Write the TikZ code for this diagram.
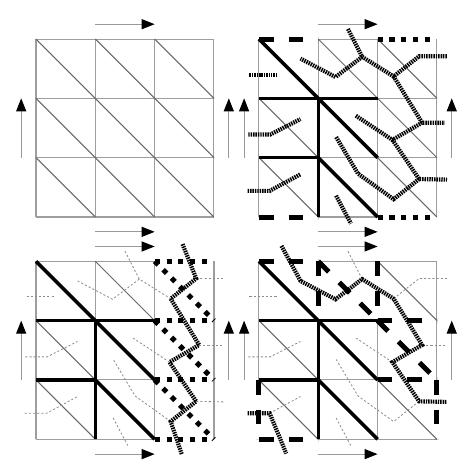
\documentclass[tikz,border=0pt]{standalone}
\usetikzlibrary{arrows.meta}

% centres of the triangles (panel coordinates)
\newcommand{\dualpoints}{%
  \coordinate (U02) at (0.70,2.67); \coordinate (U12) at (1.74,2.70); \coordinate (U22) at (2.70,2.71);
  \coordinate (L02) at (0.32,2.40); \coordinate (L12) at (1.29,2.36); \coordinate (L22) at (2.27,2.37);
  \coordinate (U01) at (0.70,1.65); \coordinate (U11) at (1.63,1.71); \coordinate (U21) at (2.75,1.59);
  \coordinate (L01) at (0.19,1.39); \coordinate (L11) at (1.30,1.35); \coordinate (L21) at (2.25,1.30);
  \coordinate (U00) at (0.70,0.72); \coordinate (U10) at (1.67,0.73); \coordinate (U20) at (2.70,0.64);
  \coordinate (L00) at (0.18,0.44); \coordinate (L10) at (1.30,0.36); \coordinate (L20) at (2.27,0.30);
  % loose ends across the border
  \coordinate (T0) at (0.38,3.26); \coordinate (T1) at (1.50,3.17); \coordinate (T2) at (2.47,3.29);
  \coordinate (B0) at (0.46,-0.24); \coordinate (B1) at (1.55,-0.11); \coordinate (B2) at (2.46,-0.26);
  \coordinate (W0) at (-0.19,0.44); \coordinate (W1) at (-0.18,1.39); \coordinate (W2) at (-0.16,2.40);
  \coordinate (R0) at (3.17,0.63); \coordinate (R1) at (3.13,1.59); \coordinate (R2) at (3.17,2.71);
}

% identification arrows
\newcommand{\gluearrows}{%
  \draw[glue] (1,3.25) -- (2,3.25);
  \draw[glue] (1,-0.25) -- (2,-0.25);
  \draw[glue] (-0.25,1) -- (-0.25,2);
  \draw[glue] (3.25,1) -- (3.25,2);
}

% spanning tree
\newcommand{\treelines}{%
  \draw[tree] (0,3) -- (2,1);
  \draw[tree] (0,2) -- (2,2);
  \draw[tree] (0,1) -- (1,1);
  \draw[tree] (1,2) -- (1,0);
  \draw[tree] (1,1) -- (2,0);
}

\begin{document}
\begin{tikzpicture}[
    mesh/.style={black!38, line width=0.5pt},
    diag/.style={black!60, line width=0.5pt},
    tree/.style={line width=1.7pt},
    cut/.style={line width=2.4pt, dash pattern=on 0.25cm off 0.25cm},
    seam/.style={line width=2.4pt, dash pattern=on 0.085cm off 0.115cm},
    cotree/.style={line width=2pt, dash pattern=on 0.7pt off 0.45pt},
    dualedge/.style={black!45, line width=0.4pt, dash pattern=on 1pt off 1pt},
    glue/.style={black!40, line width=0.5pt, -{Triangle[length=0.22cm, width=0.17cm, color=black, fill=black]}}
]
    \useasboundingbox (0,0) rectangle (7.99,7.99);

    % Mesh
    \begin{scope}[shift={(0.607,4.332)}]
        \draw[mesh] (0,0) grid (3,3);
        \foreach \i in {0,1,2}
            \foreach \j in {0,1,2}
                \draw[diag] (\i,\j+1) -- (\i+1,\j);
        \gluearrows
    \end{scope}

    % Tree and cotree
    \begin{scope}[shift={(4.365,4.332)}]
        \dualpoints
        \draw[mesh] (0,0) -- (0,3) (1,3) -- (1,2) (2,0) -- (2,3) (3,0) -- (3,3);
        \draw[mesh] (1,3) -- (2,3) (2,2) -- (3,2) (1,1) -- (3,1) (1,0) -- (2,0);
        \draw[diag] (1,3) -- (2,2) (2,3) -- (3,2) (0,2) -- (1,1) (2,2) -- (3,1) (0,1) -- (1,0) (2,1) -- (3,0);
        \treelines
        \draw[cut] (0,3) -- (1,3);
        \draw[cut] (0,0) -- (1,0);
        \draw[seam] (2,3) -- (3,3);
        \draw[seam] (2,0) -- (3,0);
        \draw[cotree] (T1) -- (U12) -- (L22) -- (U22) -- (R2);
        \draw[cotree] (U12) -- (L12) -- (U02);
        \draw[cotree] (W2) -- (L02);
        \draw[cotree] (L22) -- (U21) -- (R1);
        \draw[cotree] (U21) -- (L21) -- (U11);
        \draw[cotree] (L21) -- (U20) -- (R0);
        \draw[cotree] (U20) -- (L20) -- (U10) -- (L11);
        \draw[cotree] (W1) -- (L01) -- (U01);
        \draw[cotree] (W0) -- (L00) -- (U00);
        \draw[cotree] (L10) -- (B1);
        \gluearrows
    \end{scope}

    % First loop
    \begin{scope}[shift={(0.607,0.585)}]
        \dualpoints
        \draw[mesh] (0,0) -- (0,3) (1,3) -- (1,2) (2,0) -- (2,3) (3,0) -- (3,3);
        \draw[mesh] (0,3) -- (2,3) (1,1) -- (2,1) (0,0) -- (2,0);
        \draw[diag] (1,3) -- (2,2) (0,2) -- (1,1) (0,1) -- (1,0);
        \draw[dualedge] (T1) -- (U12) -- (L22);
        \draw[dualedge] (U12) -- (L12) -- (U02);
        \draw[dualedge] (W2) -- (L02);
        \draw[dualedge] (U22) -- (R2);
        \draw[dualedge] (U21) -- (R1);
        \draw[dualedge] (U20) -- (R0);
        \draw[dualedge] (L21) -- (U11);
        \draw[dualedge] (L20) -- (U10) -- (L11);
        \draw[dualedge] (W1) -- (L01) -- (U01);
        \draw[dualedge] (W0) -- (L00) -- (U00);
        \draw[dualedge] (L10) -- (B1);
        \treelines
        \foreach \j in {0,1,2,3}
            \draw[seam] (2,\j) -- (3,\j);
        \foreach \j in {1,2,3}
            \draw[seam] (2,\j) -- (3,\j-1);
        \draw[cotree] (T2) -- (U22) -- (L22) -- (U21) -- (L21) -- (U20) -- (L20) -- (B2);
        \gluearrows
    \end{scope}

    % Second loop
    \begin{scope}[shift={(4.365,0.585)}]
        \dualpoints
        \draw[mesh] (0,3) -- (0,1) (2,2) -- (2,0) (3,3) -- (3,1);
        \draw[mesh] (1,3) -- (3,3) (1,1) -- (2,1) (1,0) -- (3,0);
        \draw[diag] (2,3) -- (3,2) (0,2) -- (1,1) (0,1) -- (1,0) (2,1) -- (3,0);
        \draw[dualedge] (T1) -- (U12);
        \draw[dualedge] (L22) -- (U22) -- (R2);
        \draw[dualedge] (W2) -- (L02);
        \draw[dualedge] (U21) -- (R1);
        \draw[dualedge] (L21) -- (U11);
        \draw[dualedge] (U20) -- (L20) -- (U10) -- (L11);
        \draw[dualedge] (W1) -- (L01) -- (U01);
        \draw[dualedge] (L00) -- (U00);
        \draw[dualedge] (L10) -- (B1);
        \treelines
        \draw[cut] (0,3) -- (1,3);
        \draw[cut] (1,3) -- (1,2);
        \draw[cut] (1,3) -- (2,2);
        \draw[cut] (2,3) -- (2,2);
        \draw[cut] (2,2) -- (3,2);
        \draw[cut] (2,2) -- (3,1);
        \draw[cut] (2,1) -- (3,1);
        \draw[cut] (3,1) -- (3,0);
        \draw[cut] (0,1) -- (0,0);
        \draw[cut] (0,0) -- (1,0);
        \draw[cotree] (T0) -- (U02) -- (L12) -- (U12) -- (L22) -- (U21) -- (L21) -- (U20) -- (R0);
        \draw[cotree] (W0) -- (L00) -- (B0);
        \gluearrows
    \end{scope}
\end{tikzpicture}
\end{document}
